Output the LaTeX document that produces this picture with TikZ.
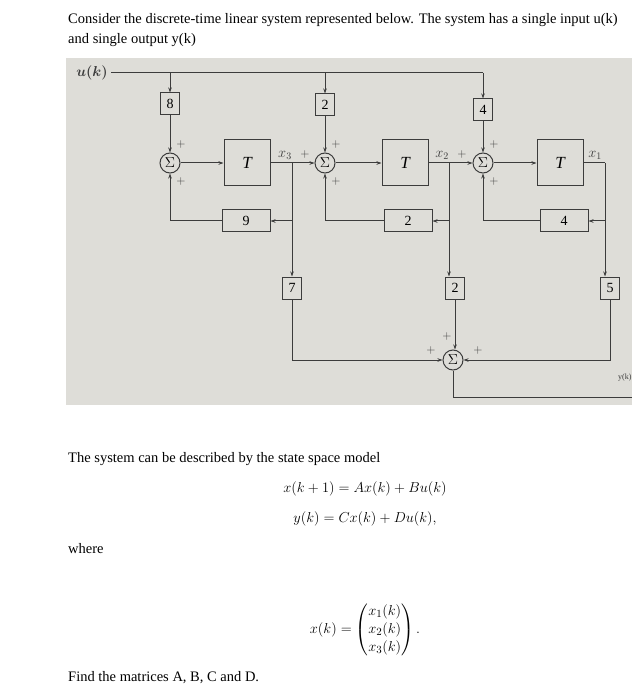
\documentclass[tikz,border=0pt]{standalone}
\usepackage{fontspec}
\setmainfont{Liberation Serif}
\usepackage{amsmath}
\usetikzlibrary{arrows.meta}
\definecolor{photo}{RGB}{222,221,216}
\definecolor{ink}{RGB}{60,60,60}
\tikzset{
  blk/.style={draw=ink,line width=1pt,minimum width=19pt,minimum height=22pt,inner sep=0pt,font=\fontsize{14}{16}\selectfont},
  wide/.style={blk,minimum width=48pt},
  tblk/.style={blk,minimum width=46pt,minimum height=46pt,font=\fontsize{17}{19}\selectfont\itshape},
  sumn/.style={draw=ink,line width=1pt,circle,minimum size=20pt,inner sep=0pt,font=\fontsize{14}{16}\selectfont},
  ln/.style={draw=ink,line width=1pt},
  ar/.style={ln,-{Stealth[length=5pt,width=3.5pt]}},
  pl/.style={font=\fontsize{13}{15}\selectfont,text=ink},
  txt/.style={font=\fontsize{14.5}{17}\selectfont,anchor=west,inner sep=0pt},
  eq/.style={font=\fontsize{15}{18}\selectfont}
}
\begin{document}
\begin{tikzpicture}[x=1pt,y=-1pt]
\useasboundingbox (0,0) rectangle (632,700);
\fill[photo] (66,58) rectangle (632,405);
\begin{scope}
\clip (0,0) rectangle (632,700);
\node[txt] (t1) at (68,20) {Consider the discrete-time linear system represented below. The system has a single input u(k)};
\node[txt] (t2) at (68,40) {and single output y(k)};
\node[font=\footnotesize,text=ink,anchor=west,inner sep=0pt] (yl) at (618,378) {y(k)};
\end{scope}
\node[text=ink,font=\fontsize{15}{17}\selectfont] (u) at (92,73) {$\boldsymbol{u(k)}$};
\node[blk] (b8) at (170,104) {8};
\node[blk] (b2) at (325,105) {2};
\node[blk] (b4) at (483,110) {4};
\node[sumn] (s1) at (170,163) {$\Sigma$};
\node[sumn] (s2) at (325,163) {$\Sigma$};
\node[sumn] (s3) at (483,163) {$\Sigma$};
\node[tblk] (T1) at (247,163) {T};
\node[tblk] (T2) at (405,163) {T};
\node[tblk] (T3) at (560,163) {T};
\node[wide] (f9) at (246,221) {9};
\node[wide] (f2) at (408,221) {2};
\node[wide] (f4) at (564,221) {4};
\node[blk] (c7) at (292,288) {7};
\node[blk] (c2) at (455,288) {2};
\node[blk] (c5) at (610,288) {5};
\node[sumn] (so) at (453,360) {$\Sigma$};
\coordinate (p3) at (292,163);
\coordinate (p2) at (449,163);
\coordinate (p1) at (605,163);
\node[text=ink,font=\fontsize{14}{16}\selectfont] (x3) at (285,155) {$x_3$};
\node[text=ink,font=\fontsize{14}{16}\selectfont] (x2) at (442,155) {$x_2$};
\node[text=ink,font=\fontsize{14}{16}\selectfont] (x1) at (595,155) {$x_1$};
\draw[ln] (u.east) -- (483,73) coordinate (ue);
\draw[ar] (ue) -- (b4.north);
\draw[ar] (170,73) -- (b8.north);
\draw[ar] (325,73) -- (b2.north);
\draw[ar] (b8) -- (s1);
\draw[ar] (b2) -- (s2);
\draw[ar] (b4) -- (s3);
\draw[ar] (s1) -- (T1);
\draw[ar] (T1.east) -- (s2.west);
\draw[ar] (s2) -- (T2);
\draw[ar] (T2.east) -- (s3.west);
\draw[ar] (s3) -- (T3);
\draw[ln] (T3.east) -- (p1);
\draw[ar] (p3) |- (f9.east);
\draw[ar] (f9.west) -| (s1.south);
\draw[ar] (p2) |- (f2.east);
\draw[ar] (f2.west) -| (s2.south);
\draw[ar] (p1) |- (f4.east);
\draw[ar] (f4.west) -| (s3.south);
\draw[ar] (p3) -- (c7.north);
\draw[ar] (p2) -- (p2 |- c2.north);
\draw[ar] (p1) -- (p1 |- c5.north);
\draw[ar] (c7.south) |- (so.west);
\draw[ar] (c2.south) -- (c2.south |- so.north);
\draw[ar] (c5.south) |- (so.east);
\draw[ln] (so.south) |- (632,397);
\foreach \s in {s1,s2,s3}{
  \node[pl] at ([xshift=11pt,yshift=8pt]\s.north) {$+$};
  \node[pl] at ([xshift=11pt,yshift=-8pt]\s.south) {$+$};
}
\node[pl] at (305,155) {$+$};
\node[pl] at (462,155) {$+$};
\node[pl] at (447,336) {$+$};
\node[pl] at (431,350) {$+$};
\node[pl] at (478,350) {$+$};
\node[txt] (t3) at (68,459) {The system can be described by the state space model};
\node[eq] (e1) at (365,489) {$x(k+1)=Ax(k)+Bu(k)$};
\node[eq] (e2) at (365,519) {$y(k)=Cx(k)+Du(k),$};
\node[txt] (t4) at (68,549) {where};
\node[eq] (e3) at (365,630) {$x(k)=\begin{pmatrix}x_1(k)\\x_2(k)\\x_3(k)\end{pmatrix}.$};
\node[txt] (t5) at (68,678) {Find the matrices A, B, C and D.};
\end{tikzpicture}
\end{document}
